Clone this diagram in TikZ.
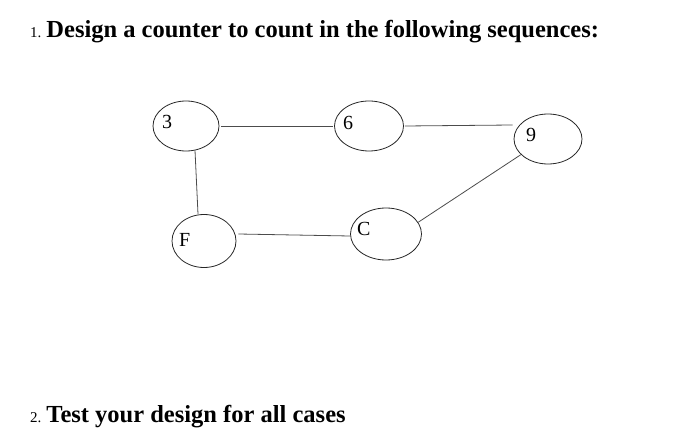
\documentclass[tikz,border=0pt]{standalone}
\usepackage{fontspec}
\setmainfont{Liberation Serif}
\usetikzlibrary{shapes.geometric}
\begin{document}
\begin{tikzpicture}[x=1pt,y=-1pt,
  st/.style={ellipse,draw=black!85,line width=0.8pt,inner sep=0pt},
  lb/.style={font=\fontsize{20}{20}\selectfont,anchor=west,inner sep=0pt},
  ln/.style={draw=black!70,line width=0.8pt}]
\useasboundingbox (0,0) rectangle (700,446);
\node[anchor=base west,inner sep=0pt] (t1) at (30,38) {\fontsize{15}{15}\selectfont 1. \fontsize{24.5}{24.5}\selectfont\bfseries Design a counter to count in the following sequences:};
\node[anchor=base west,inner sep=0pt] (t2) at (30,422) {\fontsize{15}{15}\selectfont 2. \fontsize{24.5}{24.5}\selectfont\bfseries Test your design for all cases};
\node[st,minimum width=66,minimum height=50] (n3) at (186,126) {};
\node[st,minimum width=69,minimum height=50] (n6) at (369,126) {};
\node[st,minimum width=68,minimum height=50] (n9) at (548,139) {};
\node[st,minimum width=64,minimum height=53] (nF) at (204,241) {};
\node[st,minimum width=71,minimum height=52] (nC) at (386,234) {};
\node[lb] (l3) at (162,122) {3};
\node[lb] (l6) at (343,123) {6};
\node[lb] (l9) at (526,135) {9};
\node[lb] (lF) at (179,240) {F};
\node[lb] (lC) at (357,229) {C};
\draw[ln] ([xshift=2]n3.east) -- ([xshift=-1]n6.west);
\draw[ln] ([xshift=1]n6.east) -- ([xshift=-1,yshift=14]n9.west);
\draw[ln] ([xshift=9,yshift=1]n3.south) -- ([xshift=-6]nF.north);
\draw[ln] ([xshift=2,yshift=7]nF.east) -- ([yshift=-2]nC.west);
\draw[ln] (nC.20) -- (n9.-150);
\end{tikzpicture}
\end{document}
